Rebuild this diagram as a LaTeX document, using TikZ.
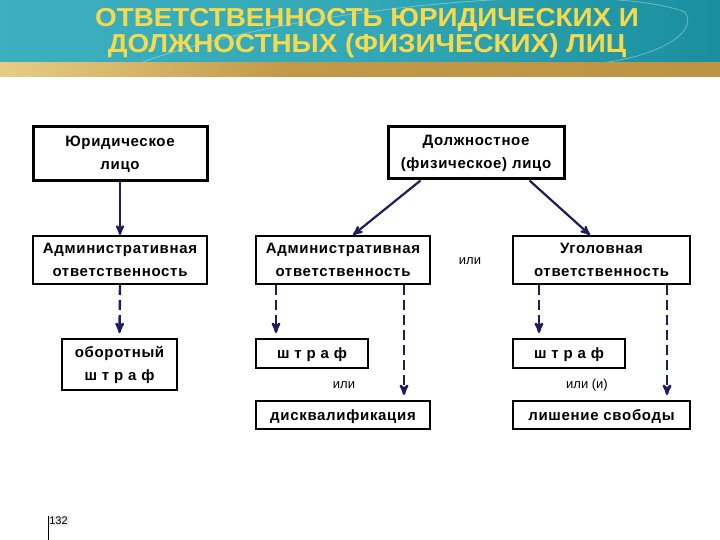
\documentclass[tikz,border=0pt]{standalone}
\usepackage{fontspec}
\setmainfont{Liberation Sans}
\newfontfamily\boxfont[LetterSpace=4.5]{Liberation Sans}
\usetikzlibrary{arrows}

\definecolor{navy}{RGB}{32,28,98}
\definecolor{titleyellow}{RGB}{246,218,76}
\pgfdeclarehorizontalshading{tealband}{100bp}{rgb(0bp)=(0.52,0.82,0.85); rgb(15bp)=(0.25,0.70,0.76); rgb(50bp)=(0.20,0.66,0.72); rgb(75bp)=(0.10,0.56,0.62); rgb(100bp)=(0.06,0.48,0.54)}
\pgfdeclarehorizontalshading{goldband}{100bp}{rgb(0bp)=(0.96,0.90,0.70); rgb(25bp)=(0.90,0.80,0.52); rgb(45bp)=(0.76,0.60,0.28); rgb(75bp)=(0.74,0.58,0.26); rgb(92bp)=(0.92,0.80,0.40); rgb(100bp)=(0.97,0.92,0.72)}

\begin{document}
\begin{tikzpicture}[x=1pt,y=-1pt,>=stealth',
		box/.style={draw, line width=2pt, align=center, inner sep=0pt, font=\boxfont\bfseries\fontsize{15}{23}\selectfont},
		topbox/.style={box, line width=3pt},
		onebox/.style={box, text height=11pt, text depth=1pt},
		word/.style={font=\fontsize{13}{15}\selectfont},
		solarr/.style={->, navy, line width=2.2pt},
		dasharr/.style={->, navy, line width=2.4pt, dash pattern=on 10pt off 5pt, shorten >=5pt}]
			\useasboundingbox (0,0) rectangle (720,540);
			\shade[shading=tealband] (0,0) rectangle (720,63);
			\draw[white, opacity=0.35, line width=0.8pt] (140,63) .. controls (300,5) and (600,-20) .. (685,12) .. controls (700,35) and (650,58) .. (600,63);
			\shade[shading=goldband] (0,63) rectangle (720,77);
			\node[titleyellow, font=\bfseries\fontsize{26}{26.5}\selectfont, align=center] (title) at (367,33) {\scalebox{1.07}[1]{ОТВЕТСТВЕННОСТЬ ЮРИДИЧЕСКИХ И}\\\scalebox{1.07}[1]{ДОЛЖНОСТНЫХ (ФИЗИЧЕСКИХ) ЛИЦ}};
			\node[topbox, minimum width=174, minimum height=54] (jur) at (120,154) {Юридическое\\лицо};
			\node[topbox, minimum width=176, minimum height=52] (dolzh) at (476,153) {Должностное\\(физическое) лицо};
			\node[box, minimum width=174, minimum height=48] (adm1) at (120,260) {Административная\\ответственность};
			\node[box, minimum width=174, minimum height=48] (adm2) at (343,260) {Административная\\ответственность};
			\node[word] (ili1) at (470,261) {или};
			\node[box, minimum width=177, minimum height=48] (ugol) at (601.5,260) {Уголовная\\ответственность};
			\node[box, minimum width=115, minimum height=51] (oborot) at (119.5,364.5) {оборотный\\ш т р а ф};
			\node[onebox, minimum width=112, minimum height=29] (shtrafB) at (312,353.5) {ш т р а ф};
			\node[word] (ili2) at (344,385) {или};
			\node[onebox, minimum width=174, minimum height=28] (diskv) at (343,415) {дисквалификация};
			\node[onebox, minimum width=112, minimum height=29] (shtrafC) at (569,353.5) {ш т р а ф};
			\node[word] (ili3) at (587,385) {или (и)};
			\node[onebox, minimum width=177, minimum height=28] (lish) at (601.5,415) {лишение свободы};
			\draw[solarr] (jur.south) -- (adm1.north);
			\draw[solarr] ([xshift=34pt]dolzh.south west) -- ([xshift=10pt]adm2.north);
			\draw[solarr] ([xshift=-36pt]dolzh.south east) -- ([xshift=-11.5pt]ugol.north);
			\draw[dasharr] (adm1.south) -- (oborot.north);
			\draw[dasharr] ([xshift=21pt]adm2.south west) -- ([xshift=21pt]adm2.south west |- shtrafB.north);
			\draw[dasharr] ([xshift=-27pt]adm2.south east) -- ([xshift=-27pt]adm2.south east |- diskv.north);
			\draw[dasharr] ([xshift=27pt]ugol.south west) -- ([xshift=27pt]ugol.south west |- shtrafC.north);
			\draw[dasharr] ([xshift=-24pt]ugol.south east) -- ([xshift=-24pt]ugol.south east |- lish.north);
			\node[fill=black!8, inner sep=1pt, font=\fontsize{11}{12}\selectfont] (pnum) at (58.5,521) {132};
			\draw[line width=1pt] (pnum.north west) -- (pnum.west |- 0,540);
		\end{tikzpicture}
\end{document}
